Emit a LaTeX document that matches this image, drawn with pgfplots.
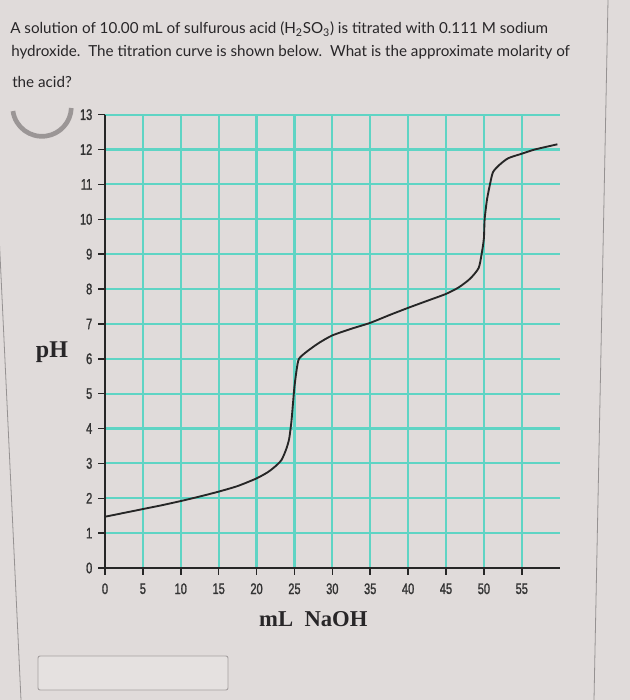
\documentclass[border=0pt]{standalone}
\usepackage{pgfplots}
\pgfplotsset{compat=1.18}
\usepackage{fontspec}
\setmainfont{Lato}
\newfontfamily\tickfont[FakeStretch=0.72, FakeBold=1.2]{Liberation Sans}
\newfontfamily\serifb{Liberation Serif}
\definecolor{bgcol}{RGB}{224,219,218}
\definecolor{gridcol}{RGB}{95,212,196}
\definecolor{txtcol}{RGB}{40,38,40}
\definecolor{curvecol}{RGB}{38,38,38}
\definecolor{framecol}{RGB}{150,146,146}
\begin{document}
\begin{tikzpicture}
\useasboundingbox (0,0) rectangle (472.5pt,525pt);
\clip (0,0) rectangle (472.5pt,525pt);
\fill[bgcol] (0,0) rectangle (472.5pt,525pt);
% page frame lines
\draw[framecol, line width=0.6pt] (-9pt,525pt) -- (15.75pt,0pt);
\draw[framecol, line width=0.6pt] (456pt,525pt) -- (445.5pt,0pt);
% spinner arc
\draw[color={rgb,255:red,155;green,150;blue,150}, line width=3.5pt] (31.5pt,444.75pt) ++(188:22pt) arc[start angle=188, end angle=358, radius=22pt];
% question text
\node[anchor=base west, inner sep=0pt, text=txtcol, font=\fontsize{11.4}{13}\selectfont] at (7.5pt,499.5pt) {A solution of 10.00 mL of sulfurous acid (H\textsubscript{2}SO\textsubscript{3}) is titrated with 0.111 M sodium};
\node[anchor=base west, inner sep=0pt, text=txtcol, font=\fontsize{11.4}{13}\selectfont] at (8.25pt,482.25pt) {hydroxide.\ \ The titration curve is shown below.\ \ What is the approximate molarity of};
\node[anchor=base west, inner sep=0pt, text=txtcol, font=\fontsize{11.4}{13}\selectfont] at (9pt,459pt) {the acid?};
% answer box
\draw[color={rgb,255:red,165;green,160;blue,160}, fill={rgb,255:red,229;green,225;blue,224}, line width=0.7pt, rounded corners=1.5pt] (28.5pt,7.5pt) rectangle (171pt,33pt);
\begin{axis}[
  at={(78.75pt,99pt)}, anchor=south west,
  scale only axis, width=341pt, height=340pt,
  xmin=0, xmax=60, ymin=0, ymax=13,
  axis lines=left, axis line style={-, line width=1.3pt, color=black!85},
  xtick={0,5,...,55}, ytick={0,1,...,13},
  grid=major, major grid style={gridcol, line width=1.6pt},
  tick align=outside, major tick length=5pt, tick style={line width=1.1pt, color=black!85},
  ticklabel style={font=\tickfont\fontsize{11.5}{11.5}\selectfont, text=black!80},
  xticklabel style={yshift=-3pt},
  yticklabel style={xshift=-1pt},
  /pgf/number format/assume math mode=true,
  clip=false,
]
\addplot[curvecol, line width=1.4pt, smooth, tension=0.4] coordinates {
(0,1.47) (2.5,1.58) (5,1.69) (7.5,1.80) (10,1.92) (12.5,2.05) (15,2.19)
(17.5,2.35) (20,2.57) (21.5,2.75) (22.5,2.92) (23.3,3.1) (23.9,3.4)
(24.3,3.7) (24.6,4.2) (24.8,4.7) (25.0,5.2) (25.3,5.7) (25.6,6.0)
(26.6,6.2) (28.2,6.45) (30,6.67) (32.5,6.86) (35,7.03) (37.5,7.25)
(40,7.46) (42.5,7.66) (45,7.86) (46.7,8.05) (48.2,8.3) (49.3,8.6)
(49.7,9.0) (50.0,9.45) (50.1,10.0) (50.4,10.55) (50.8,11.0) (51.2,11.35)
(52,11.55) (53.2,11.75) (55,11.88) (56.7,12.0) (59.7,12.15)
};
\node[font=\serifb\bfseries\fontsize{17}{17}\selectfont, text=txtcol] at (axis cs:27.5,-1.47) {mL\hspace{0.5em}NaOH};
\node[font=\serifb\bfseries\fontsize{18}{18}\selectfont, text=txtcol] at (axis cs:-7,6.18) {pH};
\end{axis}
\end{tikzpicture}
\end{document}
